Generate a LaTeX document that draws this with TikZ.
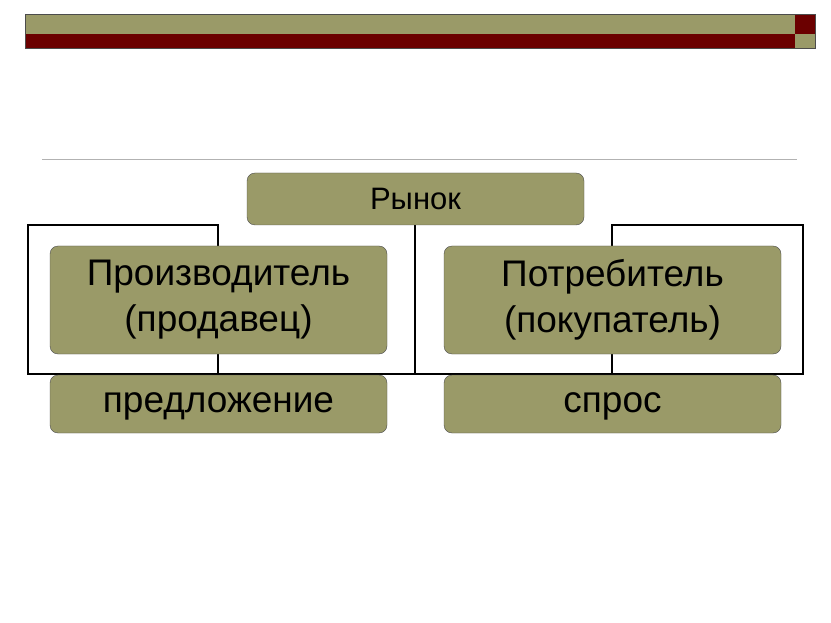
\documentclass[tikz,border=0pt]{standalone}
\usepackage{fontspec}
\setmainfont{Liberation Sans}
\usetikzlibrary{positioning}
\definecolor{olive}{HTML}{9A9A68}
\definecolor{wine}{HTML}{6B0000}

\begin{document}
\begin{tikzpicture}[
    x=1pt, y=-1pt,
    box/.style={draw=black!70, fill=olive, rounded corners=8pt, text centered, align=center, inner sep=0pt},
    link/.style={draw=black, line width=1.2pt}
    ]
    \useasboundingbox (0,0) rectangle (831,623);
    % header bars
    \fill[olive] (25,14) rectangle (795,34);
    \fill[wine] (795,14) rectangle (815,34);
    \fill[wine] (25,34) rectangle (795,48);
    \fill[olive] (795,34) rectangle (815,48);
    \draw[black!70] (25,14) rectangle (815,48);
    \draw[black!30] (42,159) -- (797,159);

    % connectors
    \coordinate (lt) at (28,225);
    \coordinate (rt) at (803,225);
    \draw[link] (218,374) -- (218,225) -- (lt) -- (28,374) -- (803,374) -- (rt) -- (612,225) -- (612,374);
    \draw[link] (415,200) -- (415,374);

    \node (market) [box, minimum width=337, minimum height=52, font=\fontsize{31}{36}\selectfont] at (415.5,199) {Рынок};
    \node (seller) [box, minimum width=337, minimum height=108, font=\fontsize{37}{46}\selectfont] at (218.5,300) {Производитель\\(продавец)};
    \node (buyer) [box, minimum width=337, minimum height=108, font=\fontsize{37}{46}\selectfont] at (612.5,300) {Потребитель\\(покупатель)};
    \node (supply) [box, minimum width=337, minimum height=58, font=\fontsize{37}{44}\selectfont] at (218.5,404) {\strut предложение};
    \node (demand) [box, minimum width=337, minimum height=58, font=\fontsize{37}{44}\selectfont] at (612.5,404) {\strut спрос};
\end{tikzpicture}
\end{document}
